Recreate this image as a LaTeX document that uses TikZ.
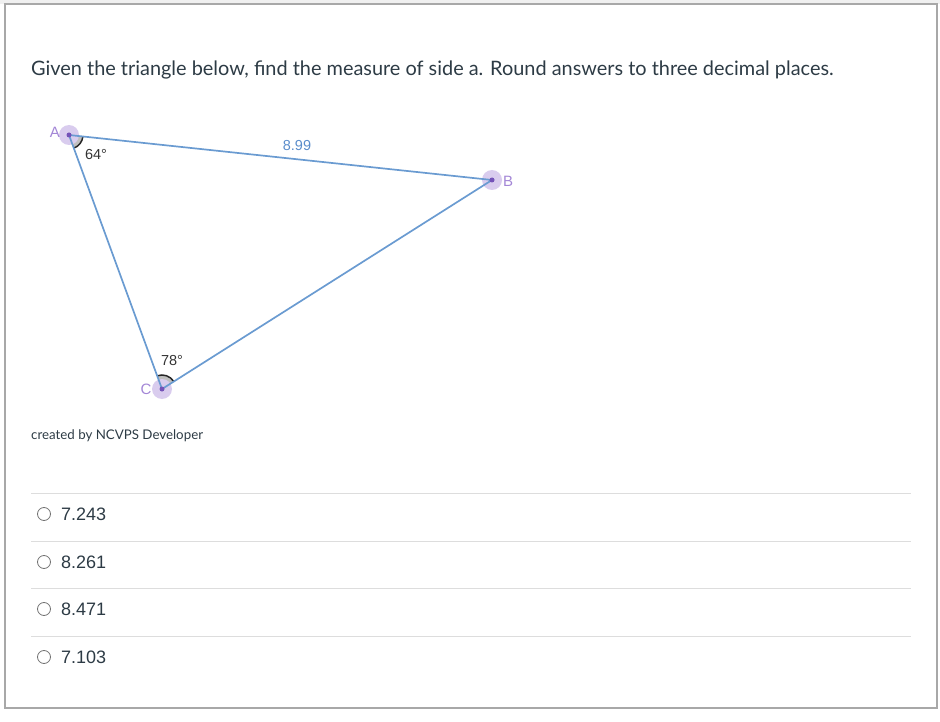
\documentclass[tikz,border=0pt]{standalone}
\usepackage{fontspec}
\setmainfont{Lato}
\newfontfamily\arialf{Liberation Sans}
\usetikzlibrary{calc}
\definecolor{tri}{HTML}{6A9BD1}
\definecolor{halo}{HTML}{D9CCEE}
\definecolor{ptc}{HTML}{7452B8}
\definecolor{lbl}{HTML}{A386D6}
\definecolor{sep}{HTML}{DDDDDD}
\definecolor{frame}{HTML}{A8A8A8}
\definecolor{txt}{HTML}{2D3B45}
\definecolor{num}{HTML}{5B8DCB}
\tikzset{
  side/.style={draw=tri, line width=1.7pt},
  halonode/.style={circle, fill=halo, minimum size=20pt, inner sep=0pt},
  dotnode/.style={circle, fill=ptc, minimum size=5pt, inner sep=0pt},
  vlabel/.style={text=lbl, font=\arialf\fontsize{15}{17}\selectfont, inner sep=0pt},
  anglabel/.style={text=black!80, font=\arialf\fontsize{14.5}{17}\selectfont, inner sep=0pt},
  opt/.style={anchor=west, text=txt, font=\arialf\fontsize{18}{21}\selectfont, inner sep=0pt},
  radio/.style={circle, draw=black!55, line width=0.8pt, minimum size=13pt, inner sep=0pt},
  sepline/.style={draw=sep, line width=1pt},
  angfill/.style={fill=black!25, draw=none},
  angarc/.style={draw=black!85, line width=1.5pt}
}
\begin{document}
\begin{tikzpicture}[x=1pt, y=-1pt]
\useasboundingbox (0,0) rectangle (940,722);
\fill[black!6] (0,0) rectangle (940,4);
\draw[frame, line width=1.2pt] (5,4) rectangle (937,708);
\node[anchor=base west, text=txt, font=\fontsize{19.9}{24}\selectfont, inner sep=0pt] (title) at (31,76) {Given the triangle below, find the measure of side a. Round answers to three decimal places.};
% vertices
\coordinate (A) at (69,135);
\coordinate (B) at (492,180);
\coordinate (C) at (162,389);
% angle marks
\fill[angfill] (A) -- ($(A)!14pt!(B)$) arc[start angle={atan2(-45,423)}, end angle={atan2(-254,93)}, radius=14pt] -- cycle;
\draw[angarc] ($(A)!14pt!(B)$) arc[start angle={atan2(-45,423)}, end angle={atan2(-254,93)}, radius=14pt];
\fill[angfill] (C) -- ($(C)!14pt!(B)$) arc[start angle={atan2(209,330)}, end angle={atan2(254,-93)}, radius=14pt] -- cycle;
\draw[angarc] ($(C)!14pt!(B)$) arc[start angle={atan2(209,330)}, end angle={atan2(254,-93)}, radius=14pt];
% halos
\node[halonode] (hA) at (A) {};
\node[halonode] (hB) at (B) {};
\node[halonode] (hC) at (C) {};
% sides
\draw[side] (A) -- (B) -- (C) -- cycle;
\node[dotnode] (dA) at (A) {};
\node[dotnode] (dB) at (B) {};
\node[dotnode] (dC) at (C) {};
\node[vlabel] (lA) at (55,132) {A};
\node[vlabel] (lB) at (508,181) {B};
\node[vlabel] (lC) at (146,389) {C};
\node[anglabel] (a64) at (96,155) {64°};
\node[anglabel] (a78) at (172,361) {78°};
\node[text=num, font=\arialf\fontsize{14.5}{17}\selectfont, inner sep=0pt] (side) at (297,146) {8.99};
\node[anchor=base west, text=txt, font=\fontsize{13.3}{16}\selectfont, inner sep=0pt] (credit) at (31,439) {created by NCVPS Developer};
% options
\draw[sepline] (31,493) -- (911,493);
\draw[sepline] (31,541) -- (911,541);
\draw[sepline] (31,588) -- (911,588);
\draw[sepline] (31,636) -- (911,636);
\node[radio] (r1) at (44,514) {};
\node[radio] (r2) at (44,562) {};
\node[radio] (r3) at (44,609) {};
\node[radio] (r4) at (44,657) {};
\node[opt] (o1) at (61,514) {7.243};
\node[opt] (o2) at (61,562) {8.261};
\node[opt] (o3) at (61,609) {8.471};
\node[opt] (o4) at (61,657) {7.103};
\end{tikzpicture}
\end{document}
